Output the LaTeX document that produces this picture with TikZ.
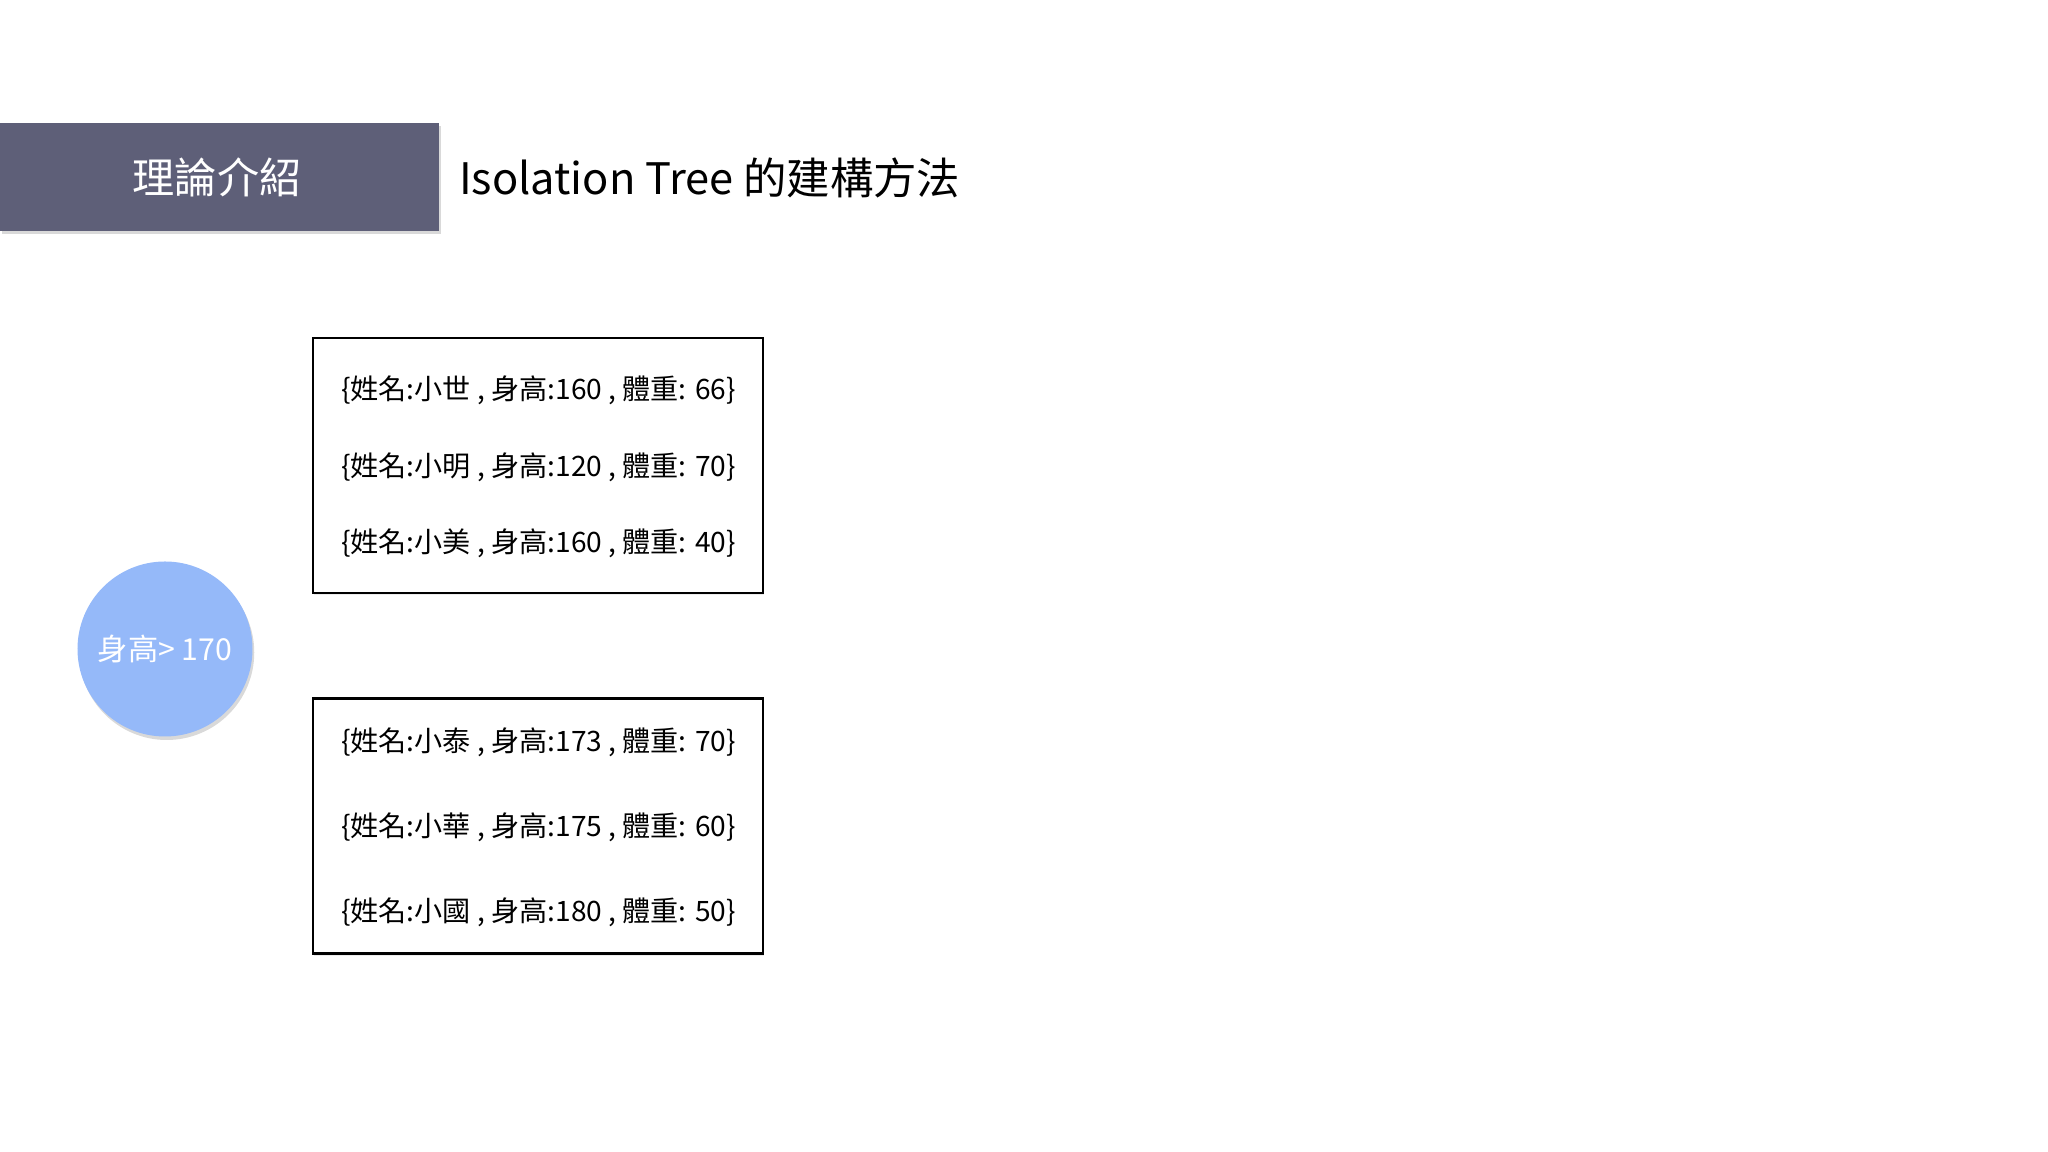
\documentclass[tikz,border=0pt]{standalone}
\usepackage{fontspec}
\setmainfont{Noto Sans CJK TC}
\usepackage{tikz}
\usetikzlibrary{positioning,shadows}
\definecolor{barcol}{HTML}{5E5F78}
\definecolor{nodecol}{HTML}{95B9F9}

\begin{document}
\begin{tikzpicture}[semithick,
                    record/.style={font=\fontsize{8pt}{10pt}\selectfont},
                    group/.style={draw=black,fill=white,line width=0.8pt,minimum width=4.5cm,minimum height=2.55cm,
                      drop shadow={opacity=0.15,shadow xshift=0.4pt,shadow yshift=-0.6pt}}]

\useasboundingbox (0,0) rectangle (20.48,11.52);

\fill[barcol,drop shadow={opacity=0.3,shadow xshift=0.5pt,shadow yshift=-1pt}] (0,9.21) rectangle (4.39,10.29);
\node[text=white,font=\fontsize{12pt}{14pt}\selectfont] (head) at (2.17,9.75) {理論介紹};
\node[anchor=west,inner sep=0pt,font=\fontsize{12.35pt}{15pt}\selectfont] (title) at (4.58,9.74) {Isolation Tree 的建構方法};

\node[circle,fill=nodecol,minimum size=1.75cm,inner sep=0pt,text=white,
      font=\fontsize{8.6pt}{10pt}\selectfont,
      drop shadow={opacity=0.3,shadow xshift=0.5pt,shadow yshift=-1pt}] (root) at (1.65,5.03) {身高> 170};

\node[group] (left) at (5.38,6.865) {};
\node[record] (l1) at (5.385,7.62) {\{姓名:小世 , 身高:160 , 體重: 66\}};
\node[record] (l2) at (5.385,6.85) {\{姓名:小明 , 身高:120 , 體重: 70\}};
\node[record] (l3) at (5.385,6.09) {\{姓名:小美 , 身高:160 , 體重: 40\}};

\node[group] (right) at (5.38,3.26) {};
\node[record] (r1) at (5.385,4.10) {\{姓名:小泰 , 身高:173 , 體重: 70\}};
\node[record] (r2) at (5.385,3.25) {\{姓名:小華 , 身高:175 , 體重: 60\}};
\node[record] (r3) at (5.385,2.40) {\{姓名:小國 , 身高:180 , 體重: 50\}};

\end{tikzpicture}
\end{document}
